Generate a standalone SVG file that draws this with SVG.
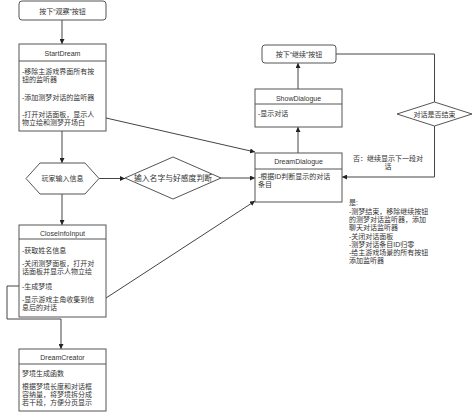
<svg xmlns="http://www.w3.org/2000/svg" width="474" height="415" viewBox="0 0 474 415">
<style>
.box{fill:#fff;stroke:#555;stroke-width:1}
.div{stroke:#555;stroke-width:1}
.t{font-family:"Liberation Sans","Noto Sans CJK SC",sans-serif;font-size:7px;fill:#333}
.c{text-anchor:middle}
.ln{fill:none;stroke:#444;stroke-width:1}
</style>
<defs>
<marker id="ah" viewBox="0 0 8 8" refX="8" refY="4" markerWidth="5" markerHeight="5" orient="auto" markerUnits="userSpaceOnUse">
<path d="M0,0 L8,4 L0,8 Z" fill="#222"/>
</marker>
</defs>
<rect width="474" height="415" fill="#fff"/>

<g id="connectors">
<line class="ln" x1="62" y1="20" x2="62" y2="44" marker-end="url(#ah)"/>
<line class="ln" x1="62" y1="131" x2="62" y2="163" marker-end="url(#ah)"/>
<line class="ln" x1="99" y1="178.5" x2="125" y2="178.5" marker-end="url(#ah)"/>
<line class="ln" x1="221" y1="178" x2="255" y2="178" marker-end="url(#ah)"/>
<line class="ln" x1="106" y1="118" x2="255" y2="152" marker-end="url(#ah)"/>
<line class="ln" x1="106" y1="298" x2="255" y2="201" marker-end="url(#ah)"/>
<line class="ln" x1="62" y1="194" x2="62" y2="225" marker-end="url(#ah)"/>
<polyline class="ln" points="19,286 7,286 7,319 61,319 61,349" marker-end="url(#ah)"/>
<line class="ln" x1="298" y1="153" x2="298" y2="127" marker-end="url(#ah)"/>
<line class="ln" x1="298" y1="89" x2="298" y2="63" marker-end="url(#ah)"/>
<polyline class="ln" points="336,54 434.5,54 434.5,102"/>
<polyline class="ln" points="434.5,126 434.5,177 342,177" marker-end="url(#ah)"/>
<text class="t c" x="388" y="160.5">否：继续显示下一段对</text>
<text class="t c" x="388" y="169">话</text>
<text class="t" x="349" y="205">是:</text>
<text class="t" x="349" y="213.5">-测梦结束，移除继续按钮</text>
<text class="t" x="349" y="222">的测梦对话监听器，添加</text>
<text class="t" x="349" y="230">聊天对话监听器</text>
<text class="t" x="349" y="238.5">-关闭对话面板</text>
<text class="t" x="349" y="246.5">-测梦对话条目ID归零</text>
<text class="t" x="349" y="255">-给主游戏场景的所有按钮</text>
<text class="t" x="349" y="263">添加监听器</text>
</g>

<g id="btnObserve">
<rect class="box" x="19" y="1" width="87" height="19" rx="3"/>
<text class="t c" x="62.5" y="14">按下“观察”按钮</text>
</g>

<g id="StartDream">
<rect class="box" x="19" y="44" width="87" height="87"/>
<line class="div" x1="19" y1="61" x2="106" y2="61"/>
<text class="t c" x="62.5" y="55.5">StartDream</text>
<text class="t" x="22" y="73.5">-移除主游戏界面所有按</text>
<text class="t" x="22" y="81.5">钮的监听器</text>
<text class="t" x="22" y="99.5">-添加测梦对话的监听器</text>
<text class="t" x="22" y="116.5">-打开对话面板，显示人</text>
<text class="t" x="22" y="124.5">物立绘和测梦开场白</text>
</g>

<g id="playerInput">
<polygon class="box" points="26,178.5 40,163 85,163 99,178.5 85,194 40,194"/>
<text class="t c" x="62.5" y="181">玩家输入信息</text>
</g>

<g id="judge">
<polygon class="box" points="125,178 173,157 221,178 173,199"/>
<text class="t c" x="173" y="180.5" style="font-size:7.8px">输入名字与好感度判断</text>
</g>

<g id="CloseInfoInput">
<rect class="box" x="19" y="225" width="87" height="92"/>
<line class="div" x1="19" y1="239" x2="106" y2="239"/>
<text class="t c" x="62.5" y="235.5">CloseInfoInput</text>
<text class="t" x="22" y="252.5">-获取姓名信息</text>
<text class="t" x="22" y="265.5">-关闭测梦面板，打开对</text>
<text class="t" x="22" y="273.5">话面板并显示人物立绘</text>
<text class="t" x="22" y="288.5">-生成梦境</text>
<text class="t" x="22" y="302">-显示游戏主角收集到信</text>
<text class="t" x="22" y="310">息后的对话</text>
</g>

<g id="DreamCreator">
<rect class="box" x="19" y="349" width="87" height="62"/>
<line class="div" x1="19" y1="364" x2="106" y2="364"/>
<text class="t c" x="62.5" y="359.5">DreamCreator</text>
<text class="t" x="22" y="375.5">梦境生成函数</text>
<text class="t" x="22" y="388.5">根据梦境长度和对话框</text>
<text class="t" x="22" y="396.5">容纳量，将梦境拆分成</text>
<text class="t" x="22" y="404.5">若干段，方便分页显示</text>
</g>

<g id="DreamDialogue">
<rect class="box" x="255" y="153" width="87" height="49"/>
<line class="div" x1="255" y1="169" x2="342" y2="169"/>
<text class="t c" x="298.5" y="163.5">DreamDialogue</text>
<text class="t" x="258" y="178.5">-根据ID判断显示的对话</text>
<text class="t" x="258" y="186.5">条目</text>
</g>

<g id="ShowDialogue">
<rect class="box" x="255" y="89" width="87" height="38"/>
<line class="div" x1="255" y1="104" x2="342" y2="104"/>
<text class="t c" x="298.5" y="100.5">ShowDialogue</text>
<text class="t" x="258" y="115.5">-显示对话</text>
</g>

<g id="btnContinue">
<rect class="box" x="262" y="45" width="74" height="18" rx="3"/>
<text class="t c" x="299" y="56.5">按下“继续”按钮</text>
</g>

<g id="isEnd">
<polygon class="box" points="397,114 434.5,102 472,114 434.5,126"/>
<text class="t c" x="434.5" y="116.5">对话是否结束</text>
</g>
</svg>
